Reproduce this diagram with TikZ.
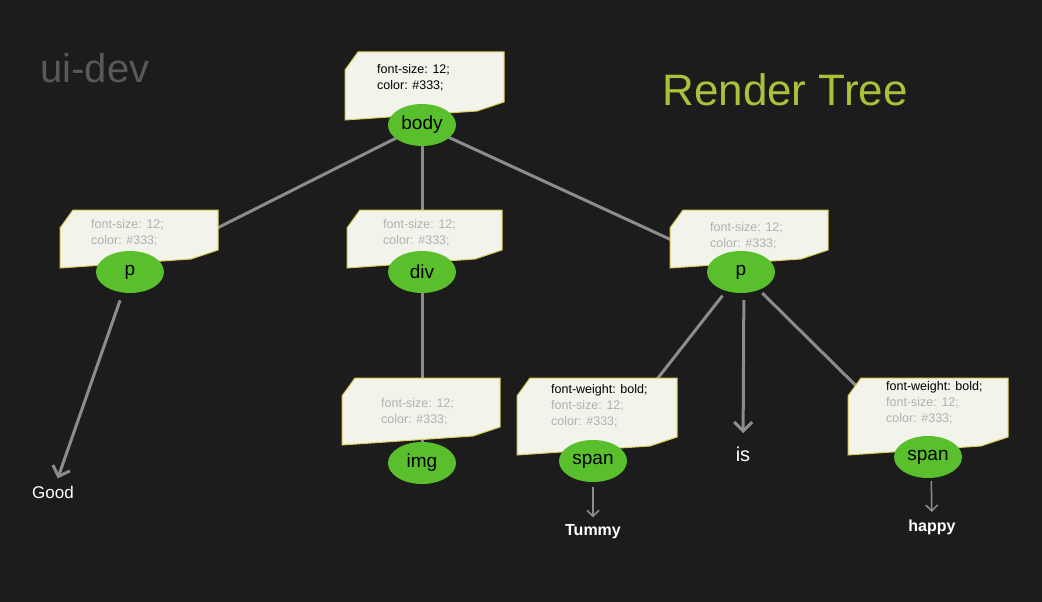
\documentclass[tikz,border=0pt]{standalone}
\usepackage{fontspec}
\setmainfont{Liberation Sans}
\usetikzlibrary{shapes.geometric,arrows.meta}
\definecolor{bg}{HTML}{1C1C1C}
\definecolor{leaf}{HTML}{5ABF2D}
\definecolor{paper}{HTML}{F2F4EC}
\definecolor{rim}{HTML}{D8CC55}
\definecolor{wire}{HTML}{8C8C8C}
\definecolor{dim}{HTML}{B0B0B0}
\definecolor{title}{HTML}{A8C23A}
\tikzset{
  elem/.style={ellipse, fill=leaf, minimum width=68pt, minimum height=42pt, inner sep=0pt, font=\fontsize{19}{19}\selectfont},
  link/.style={draw=wire, line width=3pt},
  down/.style={link, -{Straight Barb[length=9pt,width=18pt]}},
  small/.style={draw=wire, line width=1.5pt, -{Straight Barb[length=6pt,width=12pt]}},
  word/.style={text=white, font=\fontsize{17}{17}\selectfont},
  css/.style={anchor=north west, align=left, inner sep=0pt, font=\fontsize{12.5}{16}\selectfont}
}
\newcommand{\callout}[4]{%
  \fill[paper, draw=rim, line width=1pt] (#1,#2+18) -- (#1+13,#2) -- (#3,#2) -- (#3,#4-18) -- (#3-27,#4-9) -- (#1,#4) -- cycle;}
\begin{document}
\begin{tikzpicture}[x=1pt, y=-1pt]
\fill[bg] (0,0) rectangle (1042,602);
\useasboundingbox (0,0) rectangle (1042,602);

\node[text=black!65, font=\fontsize{40}{40}\selectfont] (brand) at (95,68) {ui-dev};
\node[text=title, font=\fontsize{44}{44}\selectfont] (head) at (785,90) {Render Tree};

% coordinates of the elements
\coordinate (body-c) at (422,125);
\coordinate (pl-c) at (130,272);
\coordinate (div-c) at (422,272);
\coordinate (pr-c) at (741,272);
\coordinate (img-c) at (422,463);
\coordinate (sa-c) at (593,461);
\coordinate (sb-c) at (928,457);

\node[word] (good) at (53,492) {Good};
\node[word, font=\fontsize{20}{20}\selectfont] (is) at (743,454) {is};
\node[word, font=\fontsize{16}{16}\bfseries] (tummy) at (593,532) {Tummy};
\node[word, font=\fontsize{16}{16}\bfseries] (happy) at (932,527) {happy};

\draw[link] (body-c) -- (pl-c);
\draw[link] (body-c) -- (div-c);
\draw[link] (body-c) -- (pr-c);
\draw[link] (div-c) -- (img-c);
\draw[link, shorten <=30pt] (pr-c) -- (sa-c);
\draw[link, shorten <=30pt] (pr-c) -- (sb-c);
\draw[down, shorten <=30pt, shorten >=4pt] (pl-c) -- (good);
\draw[down, shorten <=28pt, shorten >=10pt] (744,272) -- (is);
\draw[small, shorten <=26pt, shorten >=4pt] (sa-c) -- (tummy);
\draw[small, shorten <=24pt, shorten >=4pt] (931,457) -- (happy);

\callout{345}{52}{504}{120}
\callout{60}{210}{218}{268}
\callout{347}{210}{502}{268}
\callout{670}{210}{828}{268}
\callout{342}{378}{500}{445}
\callout{517}{378}{677}{455}
\callout{848}{378}{1008}{455}

\node[css] (body-t) at (377,64) {font-size: 12;\\color: \#333;};
\node[css, text=dim] (pl-t) at (91,219) {font-size: 12;\\color: \#333;};
\node[css, text=dim] (div-t) at (383,219) {font-size: 12;\\color: \#333;};
\node[css, text=dim] (pr-t) at (710,222) {font-size: 12;\\color: \#333;};
\node[css, text=dim] (img-t) at (381,398) {font-size: 12;\\color: \#333;};
\node[css] (sa-t) at (551,384) {font-weight: bold;\\\textcolor{dim}{font-size: 12;}\\\textcolor{dim}{color: \#333;}};
\node[css] (sb-t) at (886,381) {font-weight: bold;\\\textcolor{dim}{font-size: 12;}\\\textcolor{dim}{color: \#333;}};

\node[elem] (body) at (body-c) {body};
\node[elem] (pl) at (pl-c) {p};
\node[elem] (div) at (div-c) {div};
\node[elem] (pr) at (pr-c) {p};
\node[elem] (img) at (img-c) {img};
\node[elem] (sa) at (sa-c) {span};
\node[elem] (sb) at (sb-c) {span};
\end{tikzpicture}
\end{document}
